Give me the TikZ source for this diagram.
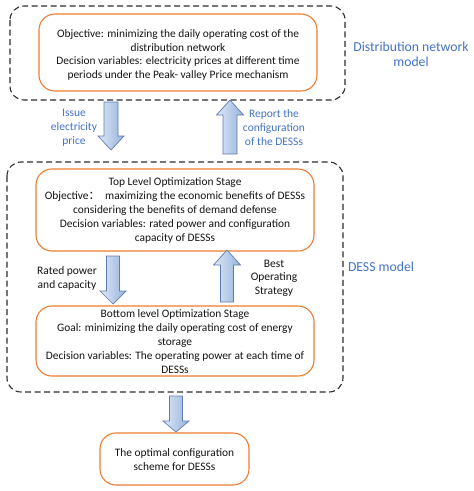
\documentclass[tikz,border=0pt]{standalone}
\usepackage{fontspec}
\setmainfont{Carlito}
\newfontfamily\cjk{Noto Sans CJK SC}
\definecolor{orng}{RGB}{237,125,49}
\definecolor{lblue}{RGB}{68,114,196}
\definecolor{arrL}{RGB}{222,232,246}
\definecolor{arrR}{RGB}{150,178,220}
\definecolor{arrD}{RGB}{95,125,175}
\definecolor{dgray}{RGB}{45,45,45}
\definecolor{txtc}{RGB}{20,20,20}
\tikzset{
  dbox/.style={draw=dgray, dash pattern=on 6pt off 3.5pt, line width=1.1pt, rounded corners=14pt},
  obox/.style={draw=orng, line width=1.1pt, rounded corners=16pt, fill=white},
  txt/.style={align=center, text=txtc, font=\fontsize{11.4}{13.9}\selectfont, inner sep=0pt},
  blbl/.style={align=center, text=lblue, font=\fontsize{11.5}{14}\selectfont, inner sep=0pt},
  klbl/.style={align=center, text=txtc, font=\fontsize{11.5}{13.5}\selectfont, inner sep=0pt},
  mlbl/.style={align=center, text=lblue, font=\fontsize{13.7}{15.5}\selectfont, inner sep=0pt},
  barrow/.style={draw=arrD, line width=0.7pt, left color=arrL, right color=arrR}
}
% down block arrow: cx, ytop, ybot, body half, head half, head length
\newcommand{\blkdown}[6]{%
  \path[barrow] (#1-#4,#2) -- (#1+#4,#2) -- (#1+#4,#3-#6) -- (#1+#5,#3-#6) -- (#1,#3) -- (#1-#5,#3-#6) -- (#1-#4,#3-#6) -- cycle;}
\newcommand{\blkup}[6]{%
  \path[barrow] (#1-#4,#3) -- (#1+#4,#3) -- (#1+#4,#2+#6) -- (#1+#5,#2+#6) -- (#1,#2) -- (#1-#5,#2+#6) -- (#1-#4,#2+#6) -- cycle;}
\begin{document}
\begin{tikzpicture}[x=1pt,y=-1pt]
\useasboundingbox (0,0) rectangle (474,491);
% dashed group boxes
\draw[dbox] (10,6) rectangle (345,100);
\draw[dbox] (7,162) rectangle (343,392);
% orange boxes
\node[obox, minimum width=278pt, minimum height=77pt] (dn) at (178,52.5) {};
\node[txt] at (178,55) {Objective: minimizing the daily operating cost of the\\distribution network\\Decision variables: electricity prices at different time\\periods under the Peak- valley Price mechanism};
\node[obox, minimum width=278pt, minimum height=82pt] (top) at (175,210) {};
\node[txt] at (175,210.5) {Top Level Optimization Stage\\Objective{\cjk ：}\ \ maximizing the economic benefits of DESSs\\considering the benefits of demand defense\\Decision variables: rated power and configuration\\capacity of DESSs};
\node[obox, minimum width=278pt, minimum height=70pt] (bot) at (175,341) {};
\node[txt] at (175,341.5) {Bottom level Optimization Stage\\Goal: minimizing the daily operating cost of energy\\storage\\Decision variables: The operating power at each time of\\DESSs};
\node[obox, minimum width=149pt, minimum height=52pt] (res) at (174.5,459) {};
\node[txt] at (174.5,459.5) {The optimal configuration\\scheme for DESSs};
% block arrows
\blkdown{111}{102}{150}{7}{13}{14}
\blkup{230}{100}{154}{7}{13.5}{15}
\blkdown{113}{256}{304}{6.5}{13}{13}
\blkup{227}{250}{302}{6.5}{13.5}{15}
\blkdown{176}{396}{432}{6.5}{13}{11}
% labels
\node[blbl] (l1) at (74,128) {Issue\\electricity\\price};
\node[blbl] (l2) at (274,128) {Report the\\configuration\\of the DESSs};
\node[klbl] (l3) at (67,278.5) {Rated power\\and capacity};
\node[klbl] (l4) at (274,278) {Best\\Operating\\Strategy};
\node[mlbl] (m1) at (411,54.5) {Distribution network\\model};
\node[mlbl] (m2) at (381,267) {DESS model};
\end{tikzpicture}
\end{document}
